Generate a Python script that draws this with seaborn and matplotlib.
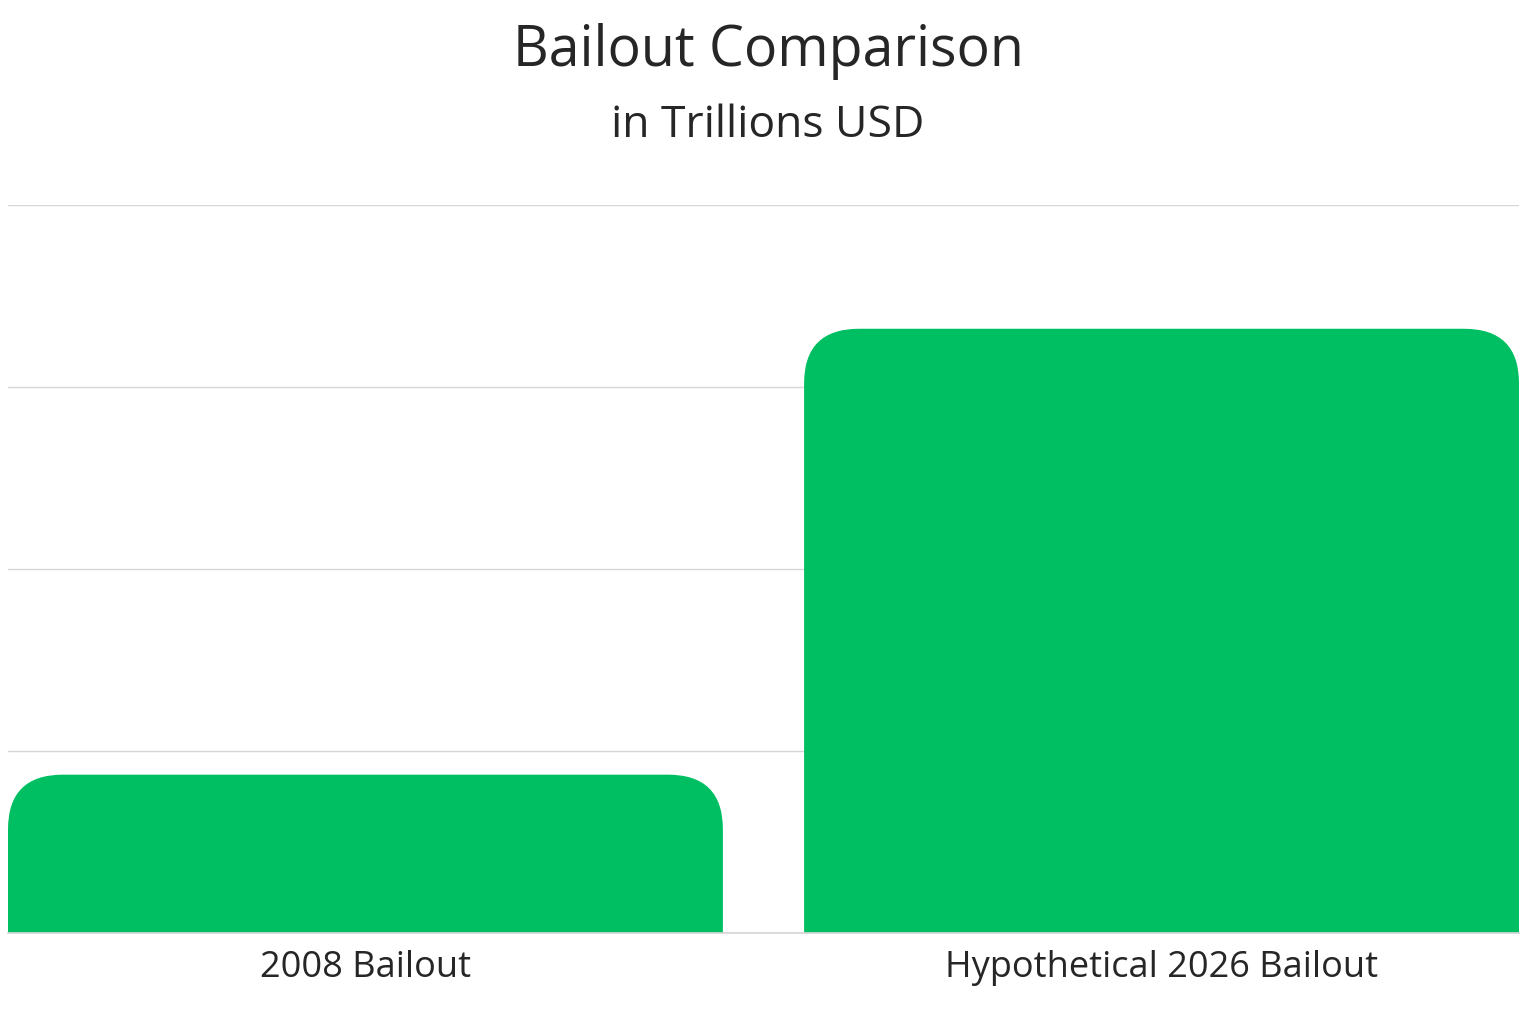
import matplotlib.pyplot as plt
import seaborn as sns
import pandas as pd
from matplotlib.patches import FancyBboxPatch

categories = ['2008 Bailout', 'Hypothetical 2026 Bailout']
values = [0.87, 3.32]

sns.set_theme(style='white')
plt.rcParams['font.family'] = ['Open Sans', 'DejaVu Sans']

df = pd.DataFrame({'name': categories, 'value': values})
fig = plt.figure(figsize=(15.36, 10.25), dpi=100)
ax = fig.add_axes([8 / 1536, 1 - 933 / 1025, 1511 / 1536, 728 / 1025])
w = 0.898
sns.barplot(data=df, x='name', y='value', color='#00BF63', width=w, ax=ax, saturation=1)
ax.set_xlim(-w / 2, 1 + w / 2)
ax.set_ylim(0, 4)

# swap square bars for ones with rounded tops
rx, ry = 0.069, 0.30
for p in list(ax.patches):
    x0, h, bw = p.get_x(), p.get_height(), p.get_width()
    p.remove()
    ax.add_patch(FancyBboxPatch((x0, -ry * 2), bw, h + ry * 2,
                                boxstyle=f'round,pad=0,rounding_size={rx}',
                                mutation_aspect=ry / rx, fc='#00BF63', ec='none',
                                zorder=2))

ax.set_yticks([0, 1, 2, 3, 4])
ax.set_yticklabels([])
ax.yaxis.grid(True, color='#d6d6d6', lw=1)
ax.set_axisbelow(True)
for s in ['top', 'right', 'left']:
    ax.spines[s].set_visible(False)
ax.spines['bottom'].set_color('#d6d6d6')
ax.tick_params(axis='x', labelsize=26, pad=12, length=0)
ax.tick_params(axis='y', length=0)
ax.set_xlabel('')
ax.set_ylabel('')

fig.text(0.5, 1 - 52 / 1025, 'Bailout Comparison', ha='center', va='center', fontsize=40)
fig.text(0.5, 1 - 126 / 1025, 'in Trillions USD', ha='center', va='center', fontsize=32)

fig.savefig('out.png', dpi=100, facecolor='white')
